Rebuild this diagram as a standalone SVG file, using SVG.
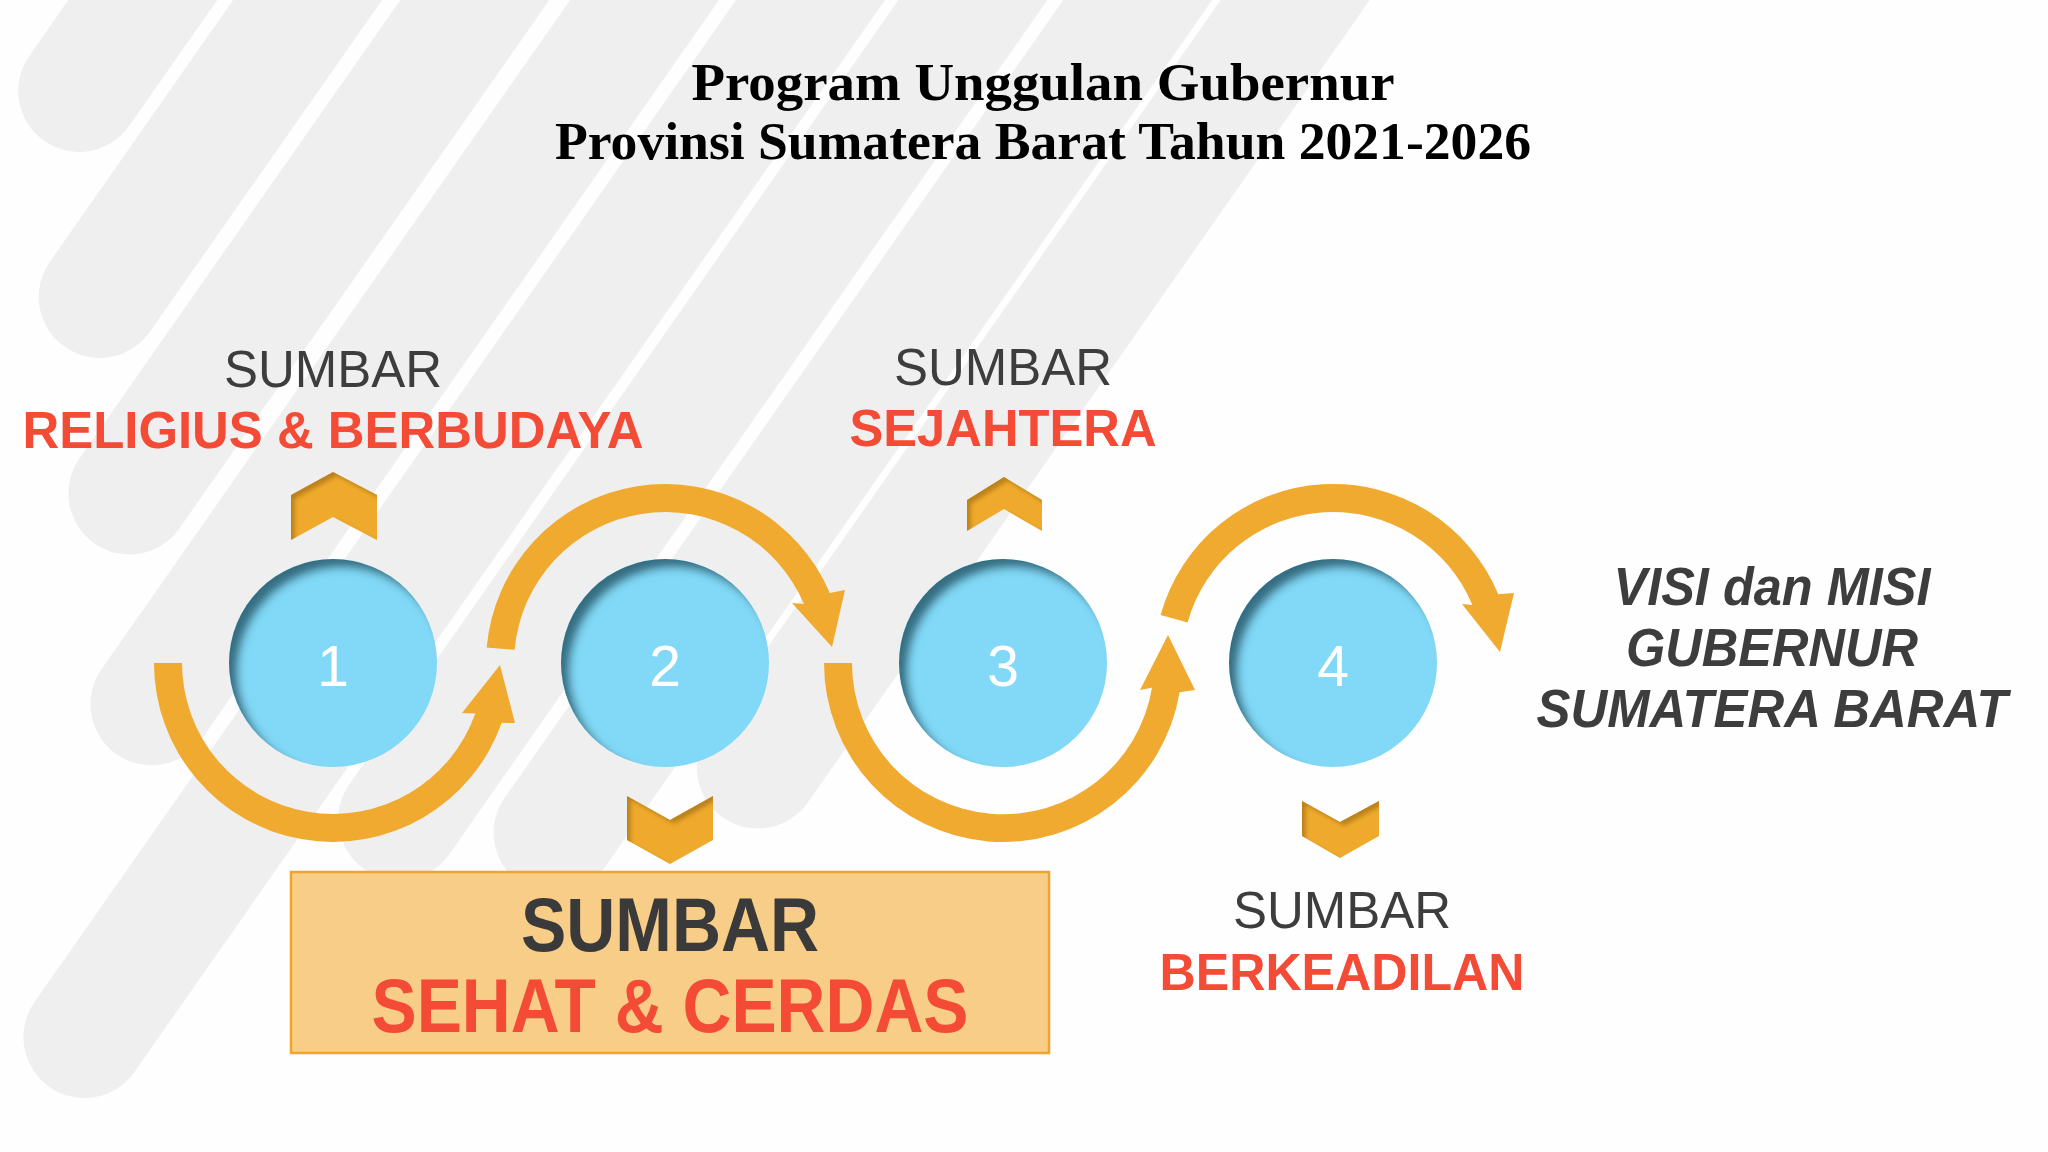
<svg xmlns="http://www.w3.org/2000/svg" width="2048" height="1152" viewBox="0 0 2048 1152">
<defs>
<style>
.stripe{fill:#efefef}
.arrow{fill:#EFAA2F}
.chev{fill:#EFAA2F;filter:url(#insetC)}
.hole{fill:#81D9F7;filter:url(#insetH)}
.num{font-family:"Liberation Sans",Arial,sans-serif;font-size:57px;fill:#ffffff;text-anchor:middle}
.lbl{font-family:"Liberation Sans",Arial,sans-serif;font-size:51px;fill:#3d3d3d;text-anchor:middle}
.red{font-family:"Liberation Sans",Arial,sans-serif;font-weight:bold;font-size:52px;fill:#F44B37;text-anchor:middle}
.bigd{font-family:"Liberation Sans",Arial,sans-serif;font-weight:bold;font-size:76px;fill:#3a3a3a;text-anchor:middle}
.bigr{font-family:"Liberation Sans",Arial,sans-serif;font-weight:bold;font-size:76px;fill:#F44B37;text-anchor:middle}
.visi{font-family:"Liberation Sans",Arial,sans-serif;font-weight:bold;font-style:italic;font-size:54px;fill:#3d3d3d;text-anchor:middle}
.title{font-family:"Liberation Serif","Times New Roman",serif;font-weight:bold;font-size:52px;fill:#000000;text-anchor:middle}
</style>
<filter id="insetH" x="-10%" y="-10%" width="120%" height="120%">
<feOffset in="SourceAlpha" dx="9" dy="9" result="o"/>
<feGaussianBlur in="o" stdDeviation="4" result="b"/>
<feComposite in="SourceAlpha" in2="b" operator="out" result="r"/>
<feFlood flood-color="#24586b" flood-opacity="0.9"/>
<feComposite in2="r" operator="in" result="s"/>
<feMerge><feMergeNode in="SourceGraphic"/><feMergeNode in="s"/></feMerge>
</filter>
<filter id="insetC" x="-10%" y="-10%" width="120%" height="120%">
<feOffset in="SourceAlpha" dx="4" dy="4" result="o"/>
<feGaussianBlur in="o" stdDeviation="2" result="b"/>
<feComposite in="SourceAlpha" in2="b" operator="out" result="r"/>
<feFlood flood-color="#8a5a0c" flood-opacity="0.6"/>
<feComposite in2="r" operator="in" result="s"/>
<feMerge><feMergeNode in="SourceGraphic"/><feMergeNode in="s"/></feMerge>
</filter>
</defs>

<rect x="0" y="0" width="2048" height="1152" fill="#fefefe"/>

<g id="background-stripes" transform="rotate(-55)">
<rect class="stripe" x="40" y="-79" width="2600" height="122" rx="61"/>
<rect class="stripe" x="-90" y="56" width="2600" height="122" rx="61"/>
<rect class="stripe" x="-247" y="191" width="2600" height="122" rx="61"/>
<rect class="stripe" x="-391" y="328" width="2600" height="122" rx="61"/>
<rect class="stripe" x="-551" y="467" width="2600" height="122" rx="61"/>
<rect class="stripe" x="-862" y="603" width="2600" height="122" rx="61"/>
<rect class="stripe" x="-503" y="736" width="2600" height="122" rx="61"/>
<rect class="stripe" x="-425" y="871" width="2600" height="122" rx="61"/>
<rect class="stripe" x="-255" y="1000" width="2600" height="122" rx="61"/>
</g>

<g id="title">
<text class="title" x="1043" y="100" textLength="703" lengthAdjust="spacingAndGlyphs">Program Unggulan Gubernur</text>
<text class="title" x="1043" y="159" textLength="976" lengthAdjust="spacingAndGlyphs">Provinsi Sumatera Barat Tahun 2021-2026</text>
</g>

<g id="connectors">
<path class="arrow" d="M154,663 A179,179 0 0 0 501.7,722.8 L515,723 L500,665 L462,713 L475.3,713.4 A151,151 0 0 1 182,663 Z"/>
<path class="arrow" d="M486.7,647.4 A179,179 0 0 1 829.8,593.1 L845,590 L832,647 L792,603 L804,604 A151,151 0 0 0 514.6,649.8 Z"/>
<path class="arrow" d="M824,663 A179,179 0 0 0 1179.6,692.2 L1195,690 L1168,635 L1140,690 L1152,687.7 A151,151 0 0 1 852,663 Z"/>
<path class="arrow" d="M1160.6,614.9 A179,179 0 0 1 1498.3,594.2 L1514,593 L1500,652 L1462,604 L1472.4,605 A151,151 0 0 0 1187.6,622.4 Z"/>
</g>

<g id="node-1">
<circle class="hole" cx="333" cy="663" r="104"/>
<text class="num" x="333" y="686">1</text>
<polygon class="chev" points="333,472 377,495 377,540 333,517 291,540 291,495"/>
<text class="lbl" x="333" y="387">SUMBAR</text>
<text class="red" x="333" y="448" textLength="621" lengthAdjust="spacingAndGlyphs">RELIGIUS &amp; BERBUDAYA</text>
</g>

<g id="node-2">
<circle class="hole" cx="665" cy="663" r="104"/>
<text class="num" x="665" y="686">2</text>
<polygon class="chev" points="627,796 670,820 713,796 713,840 670,864 627,840"/>
<rect x="291" y="872" width="758" height="181" fill="#F7CD88" stroke="#EEA52C" stroke-width="2.5"/>
<text class="bigd" x="670" y="951" textLength="298" lengthAdjust="spacingAndGlyphs">SUMBAR</text>
<text class="bigr" x="670" y="1032" textLength="597" lengthAdjust="spacingAndGlyphs">SEHAT &amp; CERDAS</text>
</g>

<g id="node-3">
<circle class="hole" cx="1003" cy="663" r="104"/>
<text class="num" x="1003" y="686">3</text>
<polygon class="chev" points="1004,477 1042,500 1042,531 1004,509 967,531 967,500"/>
<text class="lbl" x="1003" y="385">SUMBAR</text>
<text class="red" x="1003" y="446" textLength="307" lengthAdjust="spacingAndGlyphs">SEJAHTERA</text>
</g>

<g id="node-4">
<circle class="hole" cx="1333" cy="663" r="104"/>
<text class="num" x="1333" y="686">4</text>
<polygon class="chev" points="1302,801 1340,822 1379,801 1379,836 1340,858 1302,836"/>
<text class="lbl" x="1342" y="928">SUMBAR</text>
<text class="red" x="1342" y="990" textLength="365" lengthAdjust="spacingAndGlyphs">BERKEADILAN</text>
</g>

<g id="node-visi">
<text class="visi" x="1772" y="605" textLength="317" lengthAdjust="spacingAndGlyphs">VISI dan MISI</text>
<text class="visi" x="1772" y="666" textLength="292" lengthAdjust="spacingAndGlyphs">GUBERNUR</text>
<text class="visi" x="1772" y="727" textLength="471" lengthAdjust="spacingAndGlyphs">SUMATERA BARAT</text>
</g>
</svg>
